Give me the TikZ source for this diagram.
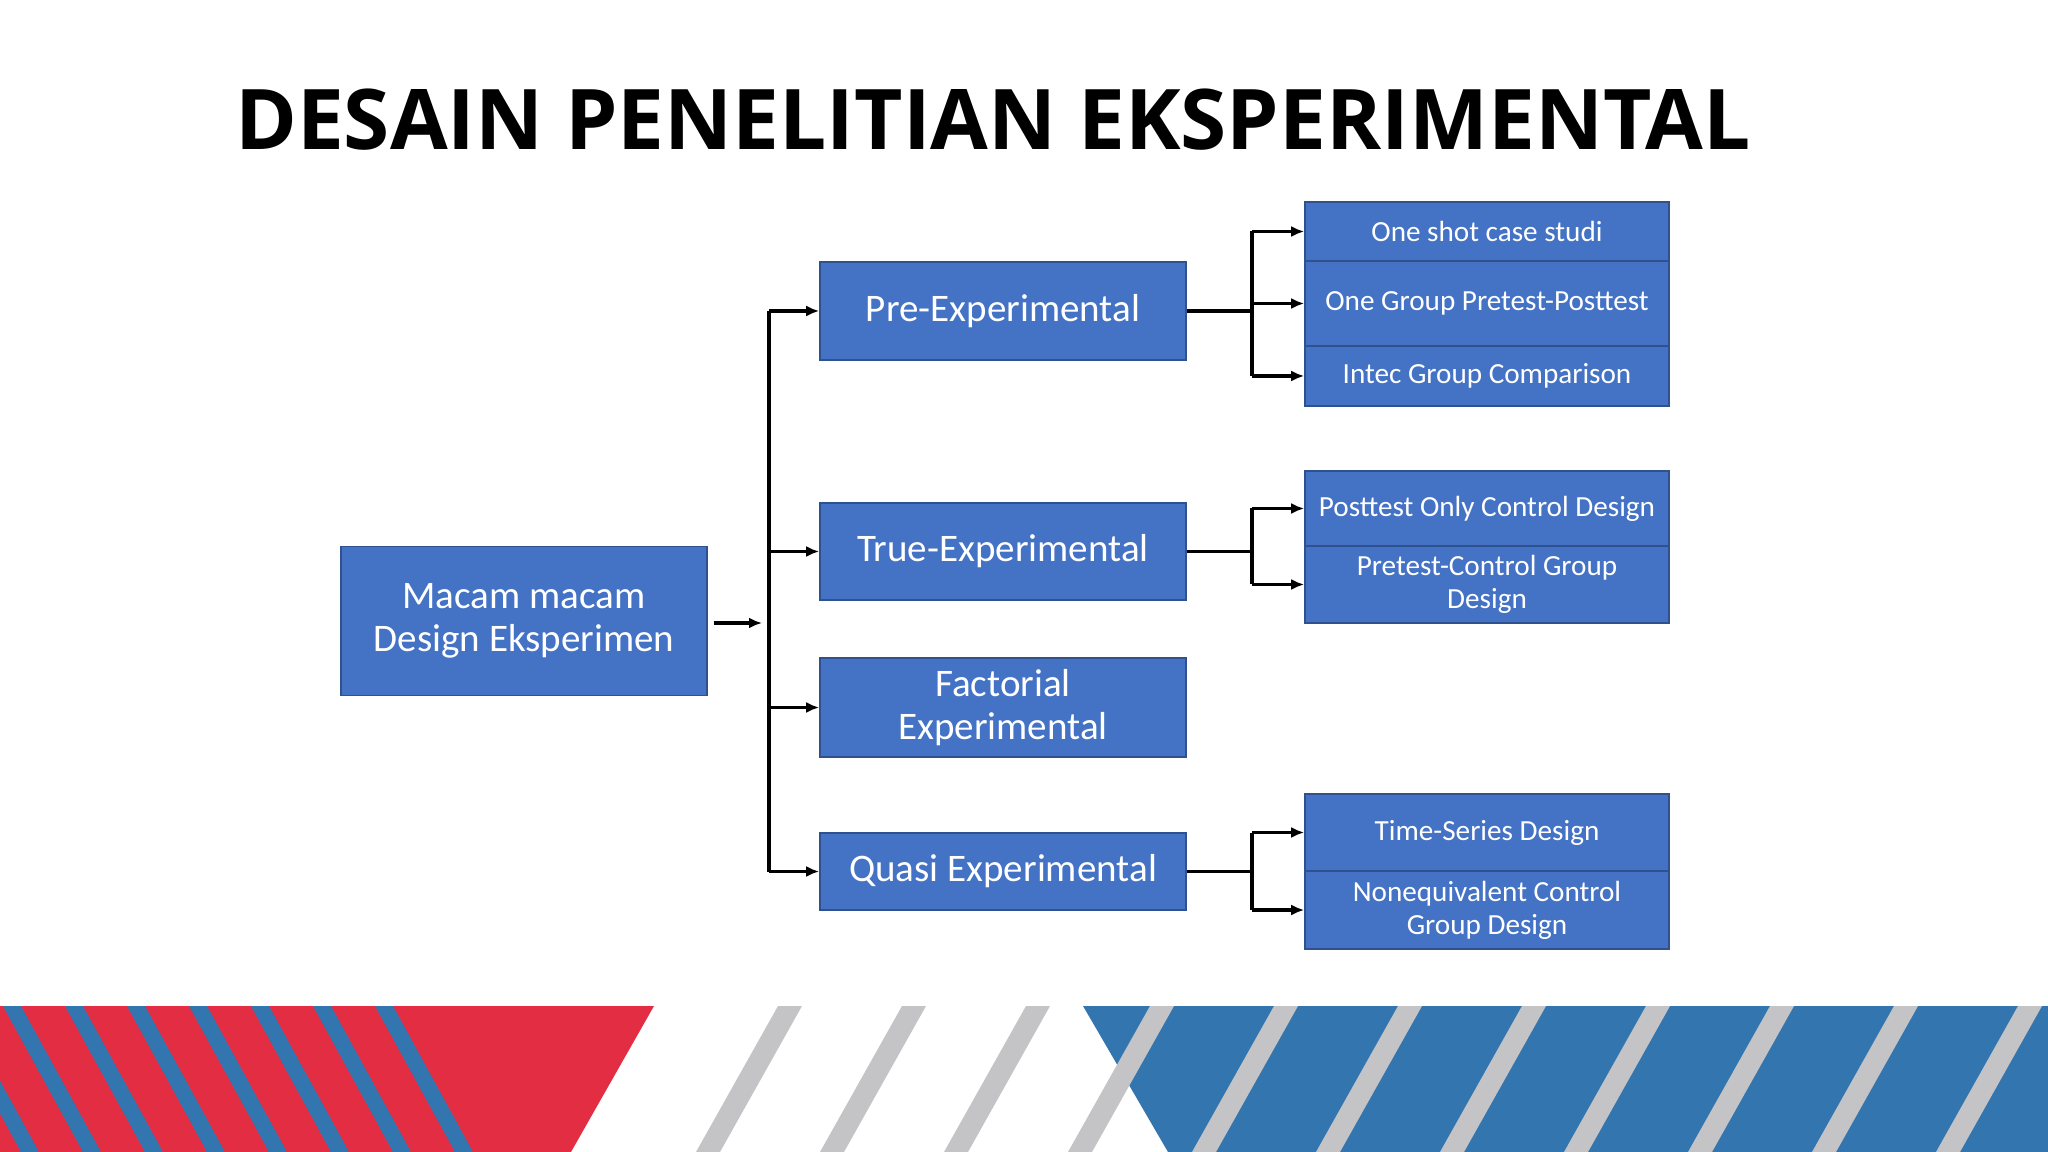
\documentclass[tikz,border=0pt]{standalone}
\usepackage{fontspec}
\setmainfont{Carlito}
\newfontfamily\titlefont{Open Sans}
\usepackage{xcolor}
\usetikzlibrary{arrows.meta}
\definecolor{boxblue}{HTML}{4472C4}
\definecolor{boxline}{HTML}{2F528F}
\definecolor{bandred}{HTML}{E32D43}
\definecolor{bandblue}{HTML}{3375AF}
\definecolor{bandgray}{HTML}{C4C4C6}

\begin{document}
\begin{tikzpicture}[x=0.01cm,y=-0.01cm,>=Latex,
  mainbox/.style={draw=boxline,line width=0.4pt,fill=boxblue,text=white,align=center,font=\fontsize{11.1}{12.4}\selectfont,minimum width=3.66cm,inner sep=0pt},
  subbox/.style={draw=boxline,line width=0.4pt,fill=boxblue,text=white,align=center,font=\fontsize{8.3}{9.4}\selectfont,minimum width=3.64cm,inner sep=0pt},
  conn/.style={line width=1pt},
  arrow/.style={line width=1pt,-{Latex[length=1.3mm,width=1.1mm]}}
]
\useasboundingbox (0,0) rectangle (2048,1152);
\fill[white] (0,0) rectangle (2048,1152);

\node[font=\titlefont\bfseries\fontsize{23.8}{28}\selectfont,anchor=base] (title) at (993,150) {DESAIN PENELITIAN EKSPERIMENTAL};

\node[mainbox,minimum height=1.49cm] (main) at (524,621) {Macam macam\\Design Eksperimen};

\node[mainbox,minimum height=0.98cm] (pre) at (1003,311) {Pre-Experimental};
\node[mainbox,minimum height=0.97cm] (true) at (1003,551.5) {True-Experimental};
\node[mainbox,minimum height=0.99cm] (fact) at (1003,707.5) {Factorial\\Experimental};
\node[mainbox,minimum height=0.77cm] (quasi) at (1003,871.5) {Quasi Experimental};

\node[subbox,minimum height=0.59cm] (os) at (1487,231.5) {One shot case studi};
\node[subbox,minimum height=0.85cm] (og) at (1487,303.5) {One Group Pretest-Posttest};
\node[subbox,minimum height=0.60cm] (ig) at (1487,376) {Intec Group Comparison};
\node[subbox,minimum height=0.75cm] (pc) at (1487,508.5) {Posttest Only Control Design};
\node[subbox,minimum height=0.77cm] (pg) at (1487,584.5) {Pretest-Control Group\\Design};
\node[subbox,minimum height=0.77cm] (ts) at (1487,832.5) {Time-Series Design};
\node[subbox,minimum height=0.78cm] (ne) at (1487,910) {Nonequivalent Control\\Group Design};

\coordinate (hub) at (769,623);
\coordinate (hubin) at (762,623);
\coordinate (rsplit) at (1252,0);

\draw[arrow] ([xshift=0.06cm]main.east |- hub) -- (hubin);
\draw[conn] (hub |- pre.west) -- (hub |- quasi.west);
\foreach \n in {pre,true,fact,quasi}
  \draw[arrow] (hub |- \n.west) -- (\n.west);

\draw[conn] (pre.east) -- (pre.east -| rsplit);
\draw[conn] (rsplit |- os.west) -- (rsplit |- ig.west);
\foreach \s in {os,og,ig}
  \draw[arrow] (rsplit |- \s.west) -- (\s.west);

\draw[conn] (true.east) -- (true.east -| rsplit);
\draw[conn] (rsplit |- pc.west) -- (rsplit |- pg.west);
\foreach \s in {pc,pg}
  \draw[arrow] (rsplit |- \s.west) -- (\s.west);

\draw[conn] (quasi.east) -- (quasi.east -| rsplit);
\draw[conn] (rsplit |- ts.west) -- (rsplit |- ne.west);
\foreach \s in {ts,ne}
  \draw[arrow] (rsplit |- \s.west) -- (\s.west);

\fill[bandred] (0,1006) -- (654,1006) -- (571,1152) -- (0,1152) -- cycle;
\begin{scope}
  \clip (0,1006) -- (654,1006) -- (571,1152) -- (0,1152) -- cycle;
  \foreach \k in {-1,...,6}
    \fill[bandblue] ({12+62*\k-9},1006) -- ({12+62*\k+9},1006) -- ({92+62*\k+9},1152) -- ({92+62*\k-9},1152) -- cycle;
\end{scope}
\fill[bandblue] (1083,1006) -- (2048,1006) -- (2048,1152) -- (1168,1152) -- cycle;
\begin{scope}
  \clip (0,1006) rectangle (2048,1152);
  \foreach \k in {0,...,10}
    \fill[bandgray] ({790+124*\k-12},1006) -- ({790+124*\k+12},1006) -- ({708+124*\k+12},1152) -- ({708+124*\k-12},1152) -- cycle;
\end{scope}
\end{tikzpicture}
\end{document}
